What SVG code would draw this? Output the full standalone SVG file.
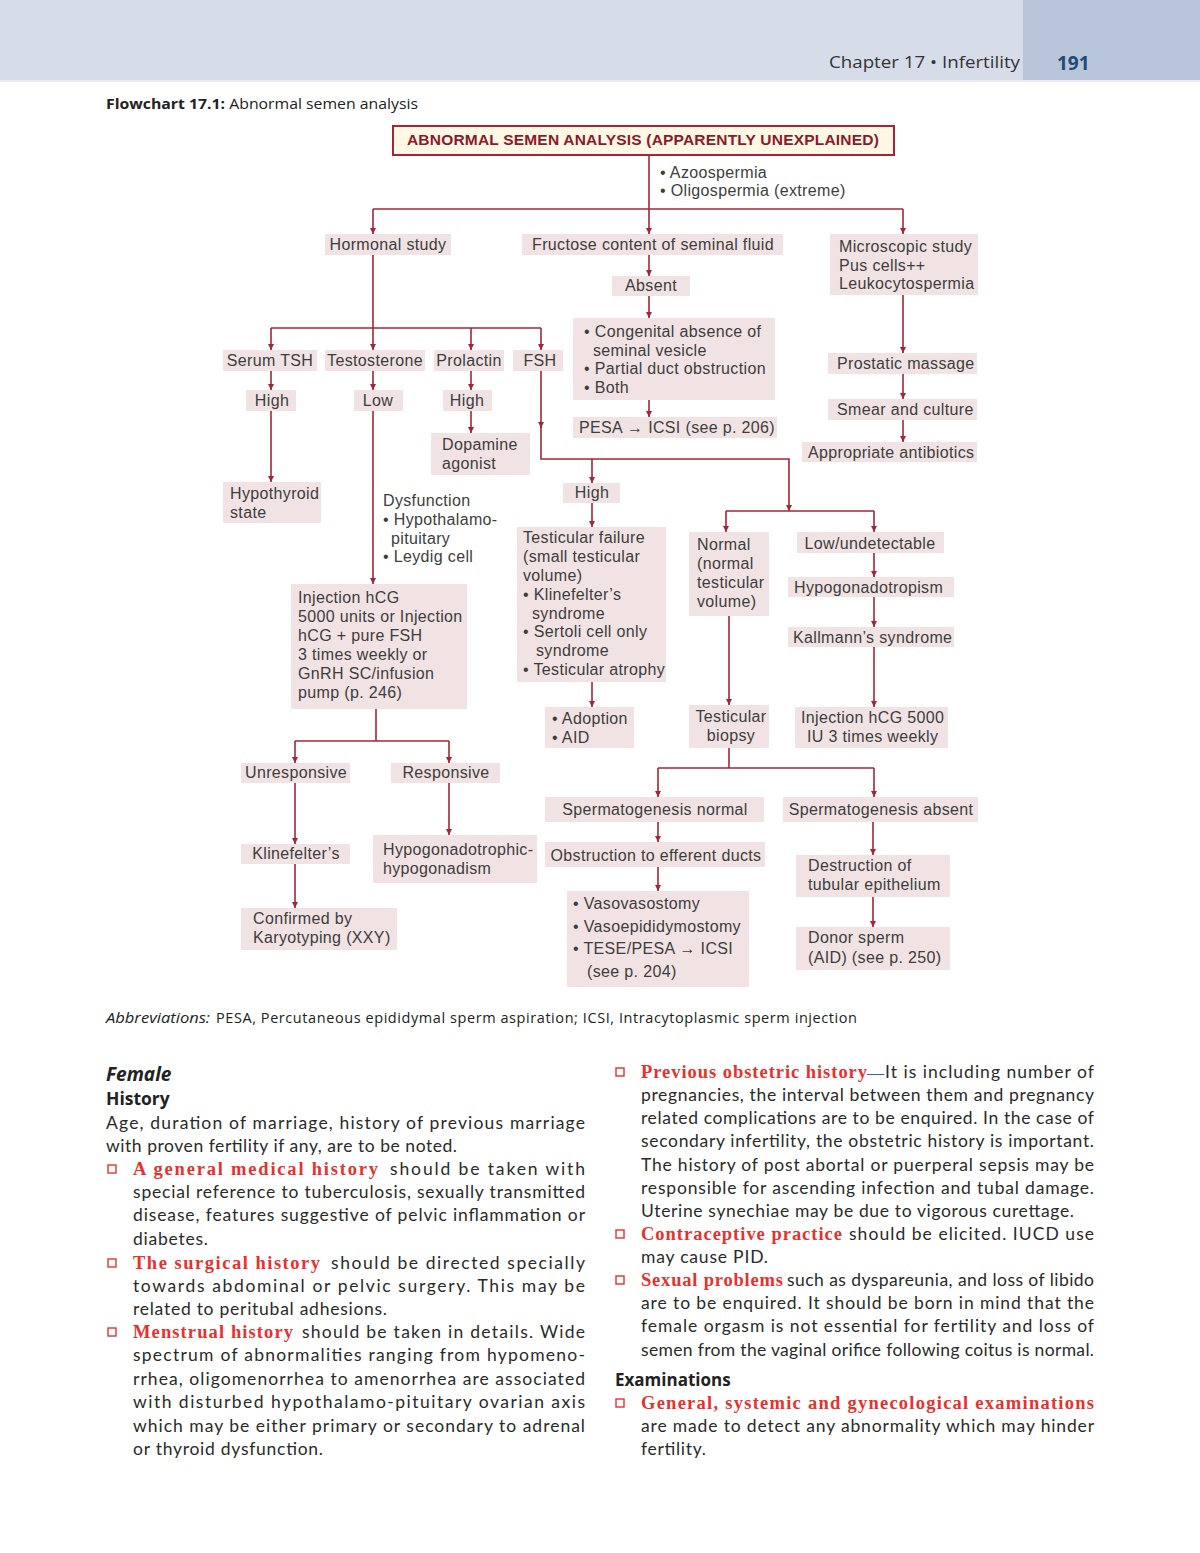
<svg xmlns="http://www.w3.org/2000/svg" width="1200" height="1553" viewBox="0 0 1200 1553">
<defs>
<style>
.n{fill:#f1e3e3}
.t{font-family:"Liberation Sans",Arial,sans-serif;font-size:16px;letter-spacing:0.35px;fill:#3d3d3d}
.m{text-anchor:middle}
.c{fill:none;stroke:#a32638;stroke-width:1.6}
.b{font-family:Lato,"Noto Sans",sans-serif;font-size:17.5px;fill:#2a2a2a}
.r{font-family:"Liberation Serif",serif;font-weight:bold;font-size:18.5px;fill:#e8312f}
.sq{fill:none;stroke:#e8312f;stroke-width:1.4}
</style>
<marker id="ar" markerWidth="7" markerHeight="7" refX="6" refY="3" orient="auto" markerUnits="userSpaceOnUse">
<path d="M0,0 L6,3 L0,6 z" fill="#a32638"/>
</marker>
</defs>
<rect width="1200" height="1553" fill="#ffffff"/>
<!-- header -->
<rect x="0" y="0" width="1200" height="80" fill="#d6dce8"/>
<rect x="1023" y="0" width="177" height="80" fill="#b8c4d8"/>
<rect x="0" y="80" width="1200" height="2" fill="#e9edf3"/>
<text x="829" y="68" font-family="Open Sans,sans-serif" font-size="17" fill="#333" textLength="191" lengthAdjust="spacingAndGlyphs">Chapter 17 • Infertility</text>
<text x="1057" y="70" font-family="Open Sans,sans-serif" font-size="19" font-weight="bold" fill="#1f4a7a">191</text>
<text x="106" y="109" font-family="Open Sans,sans-serif" font-size="14.5" fill="#222" textLength="312" lengthAdjust="spacingAndGlyphs"><tspan font-weight="bold">Flowchart 17.1:</tspan> Abnormal semen analysis</text>

<!-- connectors -->
<g id="connectors" class="c">
<path d="M649,155 V234" marker-end="url(#ar)"/>
<path d="M373,209 H903"/>
<path d="M373,209 V234" marker-end="url(#ar)"/>
<path d="M903,209 V234" marker-end="url(#ar)"/>
<path d="M649,255 V276" marker-end="url(#ar)"/>
<path d="M649,296 V318" marker-end="url(#ar)"/>
<path d="M649,400 V417" marker-end="url(#ar)"/>
<path d="M903,295 V353" marker-end="url(#ar)"/>
<path d="M903,374 V399" marker-end="url(#ar)"/>
<path d="M903,420 V442" marker-end="url(#ar)"/>
<path d="M373,255 V350" marker-end="url(#ar)"/>
<path d="M271,328 H541"/>
<path d="M271,328 V350" marker-end="url(#ar)"/>
<path d="M471,328 V350" marker-end="url(#ar)"/>
<path d="M541,328 V350" marker-end="url(#ar)"/>
<path d="M271,371 V390" marker-end="url(#ar)"/>
<path d="M373,371 V390" marker-end="url(#ar)"/>
<path d="M471,371 V390" marker-end="url(#ar)"/>
<path d="M471,411 V433" marker-end="url(#ar)"/>
<path d="M271,411 V482" marker-end="url(#ar)"/>
<path d="M541,371 V428" marker-end="url(#ar)"/>
<path d="M541,426 V459 H789 V511" marker-end="url(#ar)"/>
<path d="M592,459 V483" marker-end="url(#ar)"/>
<path d="M726,511 H874"/>
<path d="M726,511 V532" marker-end="url(#ar)"/>
<path d="M874,511 V532" marker-end="url(#ar)"/>
<path d="M592,503 V527" marker-end="url(#ar)"/>
<path d="M592,682 V707" marker-end="url(#ar)"/>
<path d="M729,616 V705" marker-end="url(#ar)"/>
<path d="M874,553 V577" marker-end="url(#ar)"/>
<path d="M874,597 V627" marker-end="url(#ar)"/>
<path d="M874,647 V707" marker-end="url(#ar)"/>
<path d="M373,411 V584" marker-end="url(#ar)"/>
<path d="M376,709 V741"/>
<path d="M295,741 H449"/>
<path d="M295,741 V763" marker-end="url(#ar)"/>
<path d="M449,741 V763" marker-end="url(#ar)"/>
<path d="M295,783 V844" marker-end="url(#ar)"/>
<path d="M295,864 V908" marker-end="url(#ar)"/>
<path d="M449,783 V835" marker-end="url(#ar)"/>
<path d="M729,748 V768"/>
<path d="M658,768 H874"/>
<path d="M658,768 V797" marker-end="url(#ar)"/>
<path d="M874,768 V797" marker-end="url(#ar)"/>
<path d="M658,822 V842" marker-end="url(#ar)"/>
<path d="M658,867 V891" marker-end="url(#ar)"/>
<path d="M873,822 V855" marker-end="url(#ar)"/>
<path d="M873,897 V927" marker-end="url(#ar)"/>
</g>

<!-- nodes -->
<g id="n-top">
<rect x="393" y="126" width="501" height="29" fill="#fdf8e4" stroke="#a32638" stroke-width="2"/>
<text x="643" y="145" class="m" font-family="Liberation Sans,Arial,sans-serif" font-size="15.5" letter-spacing="0.2" font-weight="bold" fill="#8b1a2b">ABNORMAL SEMEN ANALYSIS (APPARENTLY UNEXPLAINED)</text>
</g>
<g id="n-azoo" class="t">
<text x="660" y="178">• Azoospermia</text>
<text x="660" y="196">• Oligospermia (extreme)</text>
</g>
<g id="n-hormonal"><rect class="n" x="325" y="234" width="126" height="21"/><text class="t m" x="388" y="250">Hormonal study</text></g>
<g id="n-fructose"><rect class="n" x="522" y="234" width="261" height="21"/><text class="t m" x="653" y="250">Fructose content of seminal fluid</text></g>
<g id="n-micro"><rect class="n" x="830" y="234" width="148" height="61"/>
<text class="t" x="839" y="252">Microscopic study</text><text class="t" x="839" y="271">Pus cells++</text><text class="t" x="839" y="289">Leukocytospermia</text></g>
<g id="n-absent"><rect class="n" x="612" y="276" width="78" height="20"/><text class="t m" x="651" y="291">Absent</text></g>
<g id="n-congenital"><rect class="n" x="573" y="318" width="202" height="82"/>
<text class="t" x="584" y="337">• Congenital absence of</text><text class="t" x="593" y="356">seminal vesicle</text>
<text class="t" x="584" y="374">• Partial duct obstruction</text><text class="t" x="584" y="393">• Both</text></g>
<g id="n-pesa"><rect class="n" x="573" y="417" width="204" height="21"/><text class="t" x="579" y="433">PESA → ICSI (see p. 206)</text></g>
<g id="n-prostatic"><rect class="n" x="828" y="353" width="149" height="21"/><text class="t" x="837" y="369">Prostatic massage</text></g>
<g id="n-smear"><rect class="n" x="828" y="399" width="149" height="21"/><text class="t" x="837" y="415">Smear and culture</text></g>
<g id="n-antibiotics"><rect class="n" x="802" y="442" width="175" height="20"/><text class="t" x="808" y="458">Appropriate antibiotics</text></g>

<g id="n-tsh"><rect class="n" x="223" y="350" width="94" height="21"/><text class="t m" x="270" y="366">Serum TSH</text></g>
<g id="n-testosterone"><rect class="n" x="325" y="350" width="100" height="21"/><text class="t m" x="375" y="366">Testosterone</text></g>
<g id="n-prolactin"><rect class="n" x="434" y="350" width="70" height="21"/><text class="t m" x="469" y="366">Prolactin</text></g>
<g id="n-fsh"><rect class="n" x="513" y="350" width="50" height="21"/><text class="t m" x="540" y="366">FSH</text></g>
<g id="n-high1"><rect class="n" x="246" y="390" width="50" height="21"/><text class="t m" x="272" y="406">High</text></g>
<g id="n-low"><rect class="n" x="354" y="390" width="49" height="21"/><text class="t m" x="378" y="406">Low</text></g>
<g id="n-high2"><rect class="n" x="443" y="390" width="49" height="21"/><text class="t m" x="467" y="406">High</text></g>
<g id="n-dopamine"><rect class="n" x="431" y="433" width="99" height="42"/><text class="t" x="442" y="450">Dopamine</text><text class="t" x="442" y="469">agonist</text></g>
<g id="n-hypothyroid"><rect class="n" x="223" y="482" width="98" height="41"/><text class="t" x="230" y="499">Hypothyroid</text><text class="t" x="230" y="518">state</text></g>
<g id="n-dysfunction" class="t">
<text x="383" y="506">Dysfunction</text><text x="383" y="525">• Hypothalamo-</text><text x="391" y="544">pituitary</text><text x="383" y="562">• Leydig cell</text></g>
<g id="n-injection"><rect class="n" x="291" y="584" width="176" height="125"/>
<text class="t" x="298" y="603">Injection hCG</text><text class="t" x="298" y="622">5000 units or Injection</text>
<text class="t" x="298" y="641">hCG + pure FSH</text><text class="t" x="298" y="660">3 times weekly or</text>
<text class="t" x="298" y="679">GnRH SC/infusion</text><text class="t" x="298" y="698">pump (p. 246)</text></g>
<g id="n-unresponsive"><rect class="n" x="241" y="763" width="109" height="20"/><text class="t m" x="296" y="778">Unresponsive</text></g>
<g id="n-responsive"><rect class="n" x="391" y="763" width="109" height="20"/><text class="t m" x="446" y="778">Responsive</text></g>
<g id="n-klinefelter"><rect class="n" x="241" y="844" width="109" height="20"/><text class="t m" x="296" y="859">Klinefelter’s</text></g>
<g id="n-confirmed"><rect class="n" x="241" y="908" width="156" height="42"/><text class="t" x="253" y="924">Confirmed by</text><text class="t" x="253" y="943">Karyotyping (XXY)</text></g>
<g id="n-hypogonadotrophic"><rect class="n" x="373" y="835" width="164" height="48"/><text class="t" x="383" y="855">Hypogonadotrophic-</text><text class="t" x="383" y="874">hypogonadism</text></g>

<g id="n-high3"><rect class="n" x="563" y="483" width="57" height="20"/><text class="t m" x="592" y="498">High</text></g>
<g id="n-failure"><rect class="n" x="517" y="527" width="149" height="155"/>
<text class="t" x="523" y="543">Testicular failure</text><text class="t" x="523" y="562">(small testicular</text>
<text class="t" x="523" y="581">volume)</text><text class="t" x="523" y="600">• Klinefelter’s</text>
<text class="t" x="532" y="619">syndrome</text><text class="t" x="523" y="637">• Sertoli cell only</text>
<text class="t" x="536" y="656">syndrome</text><text class="t" x="523" y="675">• Testicular atrophy</text></g>
<g id="n-adoption"><rect class="n" x="545" y="707" width="89" height="41"/><text class="t" x="552" y="724">• Adoption</text><text class="t" x="552" y="743">• AID</text></g>
<g id="n-normal"><rect class="n" x="689" y="532" width="80" height="84"/>
<text class="t" x="697" y="550">Normal</text><text class="t" x="697" y="569">(normal</text><text class="t" x="697" y="588">testicular</text><text class="t" x="697" y="607">volume)</text></g>
<g id="n-biopsy"><rect class="n" x="689" y="705" width="80" height="43"/><text class="t m" x="731" y="722">Testicular</text><text class="t m" x="731" y="741">biopsy</text></g>
<g id="n-lowund"><rect class="n" x="797" y="532" width="147" height="21"/><text class="t m" x="870" y="549">Low/undetectable</text></g>
<g id="n-hypogonadotropism"><rect class="n" x="788" y="577" width="166" height="20"/><text class="t" x="794" y="593">Hypogonadotropism</text></g>
<g id="n-kallmann"><rect class="n" x="788" y="627" width="166" height="20"/><text class="t" x="793" y="643">Kallmann’s syndrome</text></g>
<g id="n-inj5000"><rect class="n" x="795" y="707" width="153" height="41"/><text class="t" x="801" y="723">Injection hCG 5000</text><text class="t" x="807" y="742">IU 3 times weekly</text></g>
<g id="n-spnormal"><rect class="n" x="545" y="797" width="219" height="25"/><text class="t m" x="655" y="815">Spermatogenesis normal</text></g>
<g id="n-spabsent"><rect class="n" x="783" y="797" width="195" height="25"/><text class="t m" x="881" y="815">Spermatogenesis absent</text></g>
<g id="n-obstruction"><rect class="n" x="545" y="842" width="220" height="25"/><text class="t m" x="656" y="861">Obstruction to efferent ducts</text></g>
<g id="n-vaso"><rect class="n" x="567" y="891" width="182" height="96"/>
<text class="t" x="573" y="909">• Vasovasostomy</text><text class="t" x="573" y="932">• Vasoepididymostomy</text>
<text class="t" x="573" y="954">• TESE/PESA → ICSI</text><text class="t" x="587" y="977">(see p. 204)</text></g>
<g id="n-destruction"><rect class="n" x="796" y="855" width="154" height="42"/><text class="t" x="808" y="871">Destruction of</text><text class="t" x="808" y="890">tubular epithelium</text></g>
<g id="n-donor"><rect class="n" x="796" y="927" width="154" height="43"/><text class="t" x="808" y="943">Donor sperm</text><text class="t" x="808" y="963">(AID) (see p. 250)</text></g>

<!-- abbreviations -->
<text x="106" y="1023" font-family="Open Sans,sans-serif" font-size="14.5" font-style="italic" fill="#222" textLength="104" lengthAdjust="spacingAndGlyphs">Abbreviations:</text>
<text x="216" y="1023" font-family="Open Sans,sans-serif" font-size="14.5" fill="#222" textLength="641" lengthAdjust="spacing">PESA, Percutaneous epididymal sperm aspiration; ICSI, Intracytoplasmic sperm injection</text>

<!-- body text left -->
<g id="body-left">
<text x="106" y="1081" font-family="Open Sans,sans-serif" font-size="19" font-weight="bold" font-style="italic" fill="#222">Female</text>
<text x="106" y="1105" font-family="Open Sans,sans-serif" font-size="17.5" font-weight="bold" fill="#222">History</text>
<text class="b" x="106" y="1129" textLength="479" lengthAdjust="spacing">Age, duration of marriage, history of previous marriage</text>
<text class="b" x="106" y="1152" textLength="351" lengthAdjust="spacing">with proven fertility if any, are to be noted.</text>
<rect class="sq" x="108" y="1165" width="8" height="8"/>
<text class="r" x="133" y="1175" textLength="245" lengthAdjust="spacing">A general medical history</text>
<text class="b" x="390" y="1175" textLength="195" lengthAdjust="spacing">should be taken with</text>
<text class="b" x="133" y="1198" textLength="452" lengthAdjust="spacing">special reference to tuberculosis, sexually transmitted</text>
<text class="b" x="133" y="1221" textLength="452" lengthAdjust="spacing">disease, features suggestive of pelvic inflammation or</text>
<text class="b" x="133" y="1245" textLength="75" lengthAdjust="spacing">diabetes.</text>
<rect class="sq" x="108" y="1259" width="8" height="8"/>
<text class="r" x="133" y="1269" textLength="187" lengthAdjust="spacing">The surgical history</text>
<text class="b" x="331" y="1269" textLength="254" lengthAdjust="spacing">should be directed specially</text>
<text class="b" x="133" y="1292" textLength="452" lengthAdjust="spacing">towards abdominal or pelvic surgery. This may be</text>
<text class="b" x="133" y="1315" textLength="254" lengthAdjust="spacing">related to peritubal adhesions.</text>
<rect class="sq" x="108" y="1328" width="8" height="8"/>
<text class="r" x="133" y="1338" textLength="160" lengthAdjust="spacing">Menstrual history</text>
<text class="b" x="302" y="1338" textLength="283" lengthAdjust="spacing">should be taken in details. Wide</text>
<text class="b" x="133" y="1361" textLength="452" lengthAdjust="spacing">spectrum of abnormalities ranging from hypomeno-</text>
<text class="b" x="133" y="1385" textLength="452" lengthAdjust="spacing">rrhea, oligomenorrhea to amenorrhea are associated</text>
<text class="b" x="133" y="1408" textLength="452" lengthAdjust="spacing">with disturbed hypothalamo-pituitary ovarian axis</text>
<text class="b" x="133" y="1432" textLength="452" lengthAdjust="spacing">which may be either primary or secondary to adrenal</text>
<text class="b" x="133" y="1455" textLength="190" lengthAdjust="spacing">or thyroid dysfunction.</text>
</g>

<!-- body text right -->
<g id="body-right">
<rect class="sq" x="616" y="1068" width="8" height="8"/>
<text class="r" x="641" y="1078" textLength="226" lengthAdjust="spacing">Previous obstetric history</text>
<text x="867" y="1078" font-family="Liberation Serif,serif" font-size="17" fill="#2d6ca8">—</text>
<text class="b" x="885" y="1078" textLength="209" lengthAdjust="spacing">It is including number of</text>
<text class="b" x="641" y="1101" textLength="453" lengthAdjust="spacing">pregnancies, the interval between them and pregnancy</text>
<text class="b" x="641" y="1124" textLength="453" lengthAdjust="spacing">related complications are to be enquired. In the case of</text>
<text class="b" x="641" y="1147" textLength="453" lengthAdjust="spacing">secondary infertility, the obstetric history is important.</text>
<text class="b" x="641" y="1171" textLength="453" lengthAdjust="spacing">The history of post abortal or puerperal sepsis may be</text>
<text class="b" x="641" y="1194" textLength="453" lengthAdjust="spacing">responsible for ascending infection and tubal damage.</text>
<text class="b" x="641" y="1217" textLength="433" lengthAdjust="spacing">Uterine synechiae may be due to vigorous curettage.</text>
<rect class="sq" x="616" y="1230" width="8" height="8"/>
<text class="r" x="641" y="1240" textLength="201" lengthAdjust="spacing">Contraceptive practice</text>
<text class="b" x="849" y="1240" textLength="245" lengthAdjust="spacing">should be elicited. IUCD use</text>
<text class="b" x="641" y="1263" textLength="127" lengthAdjust="spacing">may cause PID.</text>
<rect class="sq" x="616" y="1276" width="8" height="8"/>
<text class="r" x="641" y="1286" textLength="142" lengthAdjust="spacing">Sexual problems</text>
<text class="b" x="787" y="1286" textLength="307" lengthAdjust="spacing">such as dyspareunia, and loss of libido</text>
<text class="b" x="641" y="1309" textLength="453" lengthAdjust="spacing">are to be enquired. It should be born in mind that the</text>
<text class="b" x="641" y="1332" textLength="453" lengthAdjust="spacing">female orgasm is not essential for fertility and loss of</text>
<text class="b" x="641" y="1356" textLength="453" lengthAdjust="spacing">semen from the vaginal orifice following coitus is normal.</text>
<text x="615" y="1386" font-family="Open Sans,sans-serif" font-size="17" font-weight="bold" fill="#222">Examinations</text>
<rect class="sq" x="616" y="1399" width="8" height="8"/>
<text class="r" x="641" y="1409" textLength="453" lengthAdjust="spacing">General, systemic and gynecological examinations</text>
<text class="b" x="641" y="1432" textLength="453" lengthAdjust="spacing">are made to detect any abnormality which may hinder</text>
<text class="b" x="641" y="1455" textLength="65" lengthAdjust="spacing">fertility.</text>
</g>
</svg>
